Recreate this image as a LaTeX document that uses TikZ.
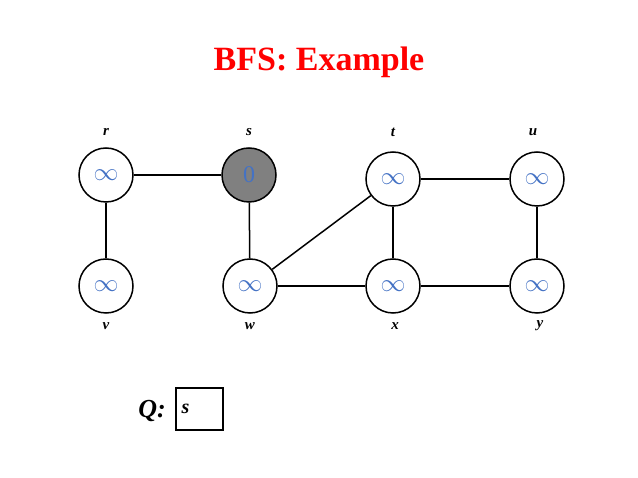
\documentclass[tikz,border=0pt]{standalone}
\usepackage{fontspec}
\setmainfont{Liberation Serif}
\usepackage{amsmath,amssymb}
\definecolor{infblue}{RGB}{68,114,196}
\tikzset{
  vert/.style={circle,draw,line width=1.5pt,minimum size=54pt,inner sep=0pt,text=infblue,font=\fontsize{24}{28}\selectfont},
  lab/.style={font=\bfseries\itshape\fontsize{15}{18}\selectfont},
  edge/.style={line width=1.5pt}
}
\begin{document}
\begin{tikzpicture}[x=1pt,y=-1pt]
        \useasboundingbox (0,0) rectangle (638,478);

        % Title
        \node [text=red,font=\bfseries\fontsize{34}{40}\selectfont] (title) at (319,62) {BFS: Example};

        % Vertices
        \node [vert] (r) at (106,175) {$\infty$};
        \node [vert,fill=gray] (s) at (249,175) {0};
        \node [vert] (t) at (393,179) {$\infty$};
        \node [vert] (u) at (537,179) {$\infty$};
        \node [vert] (v) at (106,286) {$\infty$};
        \node [vert] (w) at (250,286) {$\infty$};
        \node [vert] (x) at (393,286) {$\infty$};
        \node [vert] (y) at (537,286) {$\infty$};

        % Labels
        \node [lab] (lr) at (106,132) {r};
        \node [lab] (ls) at (249,132) {s};
        \node [lab] (lt) at (393,132) {t};
        \node [lab] (lu) at (533,132) {u};
        \node [lab] (lv) at (106,326) {v};
        \node [lab] (lw) at (250,326) {w};
        \node [lab] (lx) at (395,326) {x};
        \node [lab] (ly) at (540,326) {y};

        % Edges
        \draw [edge] (r) -- (s);
        \draw [edge] (r) -- (v);
        \draw [edge] (s) -- (w);
        \draw [edge] (w) -- (t);
        \draw [edge] (w) -- (x);
        \draw [edge] (t) -- (x);
        \draw [edge] (t) -- (u);
        \draw [edge] (u) -- (y);
        \draw [edge] (x) -- (y);

        % Queue
        \node [font=\bfseries\itshape\fontsize{26}{30}\selectfont] (q) at (152,411) {Q:};
        \node [draw,line width=1.5pt,minimum width=47pt,minimum height=42pt,anchor=west,inner sep=0pt] (box) at (175,409) {};
        \node [lab,font=\bfseries\itshape\fontsize{20}{24}\selectfont,anchor=west] (qs) at (178,409) {s};
\end{tikzpicture}
\end{document}
